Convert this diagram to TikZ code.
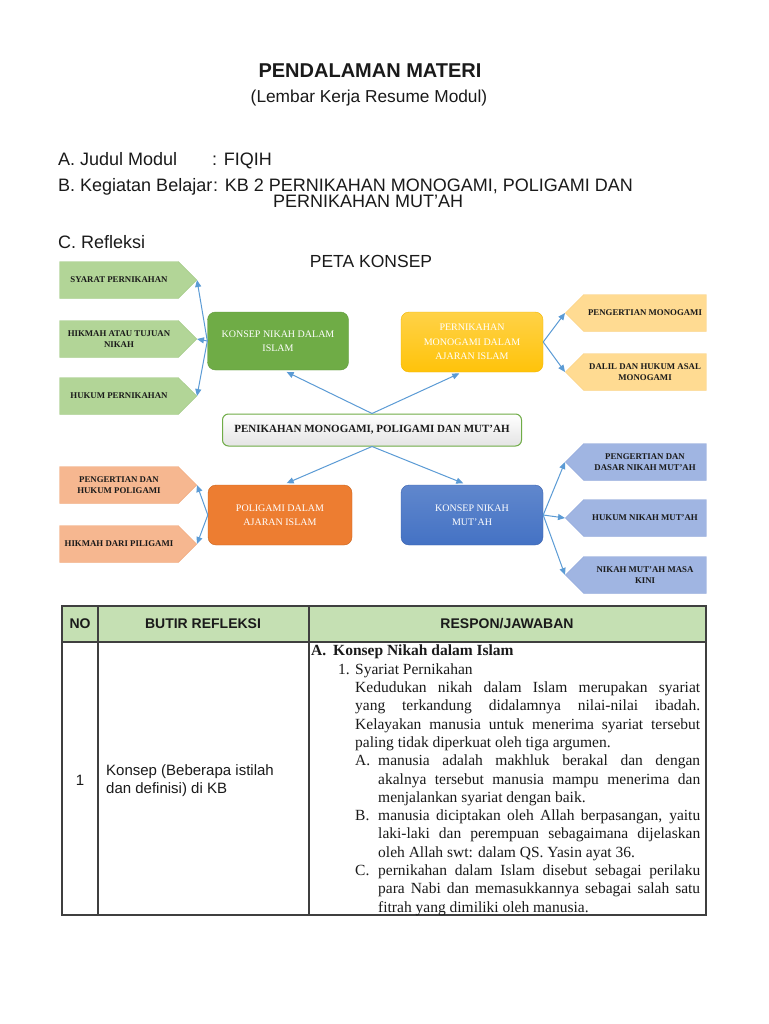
\documentclass[tikz,border=0pt]{standalone}
\usepackage{fontspec}
\setmainfont{Liberation Sans}
\newfontfamily\seriffont{Liberation Serif}
\usetikzlibrary{arrows.meta,shapes.symbols}
\definecolor{Ink}{HTML}{1A1A1A}
\definecolor{Grid}{HTML}{3F3F3F}
\definecolor{Sky}{HTML}{5B9BD5}
\definecolor{Leaf}{HTML}{B2D597}
\definecolor{LeafLine}{HTML}{A2CA86}
\definecolor{Grass}{HTML}{6FAC46}
\definecolor{GrassLine}{HTML}{5F9A3B}
\definecolor{Amber}{HTML}{FFC30A}
\definecolor{AmberLine}{HTML}{F2B600}
\definecolor{Cream}{HTML}{FFDB92}
\definecolor{CreamLine}{HTML}{F9CF7E}
\definecolor{Rust}{HTML}{ED7D31}
\definecolor{RustLine}{HTML}{C9651F}
\definecolor{Salmon}{HTML}{F6B790}
\definecolor{SalmonLine}{HTML}{F0A77A}
\definecolor{Royal}{HTML}{4472C4}
\definecolor{RoyalLine}{HTML}{3A62AE}
\definecolor{Lilac}{HTML}{A0B5E2}
\definecolor{LilacLine}{HTML}{8EA7DA}
\definecolor{Mist}{HTML}{E4E4E4}
\definecolor{HeadGreen}{HTML}{C5E0B3}

\begin{document}
\begin{tikzpicture}[x=1pt,y=-1pt,font=\fontsize{18}{21}\selectfont,every node/.style={text=Ink},babkiri/.style={signal,signal to=east,signal from=nowhere,minimum width=137pt,minimum height=37pt,inner sep=1pt,align=center,font=\fontsize{8.8}{11}\selectfont\seriffont\bfseries},babkanan/.style={babkiri,signal to=west,minimum width=141pt},kotak/.style={rounded corners=8pt,minimum width=142pt,minimum height=60pt,align=center,text=white,font=\fontsize{10}{14.5}\selectfont\seriffont},pusat/.style={rounded corners=6pt,draw=Grass,line width=1pt,top color=white,bottom color=Mist,minimum width=299pt,minimum height=32pt,font=\fontsize{11}{13}\selectfont\seriffont\bfseries},panah/.style={-{Triangle[length=7pt,width=6pt]},line width=1pt,draw=Sky},garis/.style={draw=Grid,line width=1.2pt},kepala/.style={font=\fontsize{14}{16}\selectfont\bfseries},respon/.style={text width=389pt,inner sep=0pt,align=justify,font=\fontsize{15.5}{18.3}\selectfont\seriffont}]
\useasboundingbox (0,0) rectangle (768,1024);
\fill[white] (0,0) rectangle (768,1024);
% heading
\node[anchor=base,font=\fontsize{20}{24}\selectfont\bfseries] (judul) at (370,78) {PENDALAMAN MATERI};
\node[anchor=base,font=\fontsize{17.3}{20}\selectfont] (sub) at (369,103) {(Lembar Kerja Resume Modul)};
\node[anchor=base west,inner sep=0pt] (a) at (58,166) {A. Judul Modul};
\node[anchor=base west,inner sep=0pt] (amod) at (212,166) {: FIQIH};
\node[anchor=base west,inner sep=0pt] (b) at (58,192) {B. Kegiatan Belajar};
\node[anchor=base west,inner sep=0pt] (bkb) at (213,192) {: KB 2 PERNIKAHAN MONOGAMI, POLIGAMI DAN};
\node[anchor=base west,inner sep=0pt] (bkb2) at (273,208) {PERNIKAHAN MUT’AH};
\node[anchor=base west,inner sep=0pt] (c) at (58,248) {C. Refleksi};
\node[anchor=base,font=\fontsize{17.5}{20}\selectfont] (peta) at (371,267) {PETA KONSEP};
% peta konsep
\node[pusat] (inti) at (372,430) {PENIKAHAN MONOGAMI, POLIGAMI DAN MUT’AH};
\node[kotak,fill=Grass,draw=GrassLine,minimum width=141pt,minimum height=58pt] (konsep) at (278,341) {KONSEP NIKAH DALAM\\ISLAM};
\node[kotak,top color=Amber!75!white,bottom color=Amber,draw=AmberLine] (mono) at (472,342) {PERNIKAHAN\\MONOGAMI DALAM\\AJARAN ISLAM};
\node[kotak,fill=Rust,draw=RustLine,minimum width=144pt] (poli) at (280,515) {POLIGAMI DALAM\\AJARAN ISLAM};
\node[kotak,top color=Royal!85!white,bottom color=Royal,draw=RoyalLine] (mutah) at (472,515) {KONSEP NIKAH\\MUT’AH};
\node[babkiri,fill=Leaf,draw=LeafLine,anchor=east] (syarat) at (197,280) {SYARAT PERNIKAHAN};
\node[babkiri,fill=Leaf,draw=LeafLine,anchor=east] (hikmah) at (197,339) {HIKMAH ATAU TUJUAN\\NIKAH};
\node[babkiri,fill=Leaf,draw=LeafLine,anchor=east] (hukum) at (197,396) {HUKUM PERNIKAHAN};
\node[babkanan,fill=Cream,draw=CreamLine,anchor=west] (pengmono) at (565,313) {PENGERTIAN MONOGAMI};
\node[babkanan,fill=Cream,draw=CreamLine,anchor=west] (dalil) at (565,372) {DALIL DAN HUKUM ASAL\\MONOGAMI};
\node[babkiri,fill=Salmon,draw=SalmonLine,anchor=east] (pengpoli) at (197,485) {PENGERTIAN DAN\\HUKUM POLIGAMI};
\node[babkiri,fill=Salmon,draw=SalmonLine,anchor=east] (hikpoli) at (197,544) {HIKMAH DARI PILIGAMI};
\node[babkanan,fill=Lilac,draw=LilacLine,anchor=west] (pengmutah) at (565,462) {PENGERTIAN DAN\\DASAR NIKAH MUT’AH};
\node[babkanan,fill=Lilac,draw=LilacLine,anchor=west] (hukmutah) at (565,518) {HUKUM NIKAH MUT’AH};
\node[babkanan,fill=Lilac,draw=LilacLine,anchor=west] (kini) at (565,575) {NIKAH MUT’AH MASA\\KINI};
\draw[panah] (konsep.west) -- (syarat.east);
\draw[panah] (konsep.west) -- (hikmah.east);
\draw[panah] (konsep.west) -- (hukum.east);
\draw[panah] (mono.east) -- (pengmono.west);
\draw[panah] (mono.east) -- (dalil.west);
\draw[panah,shorten >=4pt] (inti.north) -- ([xshift=5pt]konsep.south);
\draw[panah,shorten >=3pt] (inti.north) -- ([xshift=-10pt]mono.south);
\draw[panah,shorten >=4pt] (inti.south) -- ([xshift=3pt]poli.north);
\draw[panah,shorten >=4pt] (inti.south) -- ([xshift=-5pt]mutah.north);
\draw[panah] (poli.west) -- (pengpoli.east);
\draw[panah] (poli.west) -- (hikpoli.east);
\draw[panah] (mutah.east) -- (pengmutah.west);
\draw[panah] (mutah.east) -- (hukmutah.west);
\draw[panah] (mutah.east) -- (kini.west);
% tabel refleksi
\fill[HeadGreen] (62,606) rectangle (706,642);
\draw[garis] (62,606) rectangle (706,915);
\draw[garis] (98,606) -- (98,915);
\draw[garis] (309,606) -- (309,915);
\draw[garis] (62,642) -- (706,642);
\node[kepala] (hno) at (80,624) {NO};
\node[kepala] (hbutir) at (203,624) {BUTIR REFLEKSI};
\node[kepala] (hrespon) at (507,624) {RESPON/JAWABAN};
\node[font=\fontsize{15}{18}\selectfont] (no1) at (80,780) {1};
\node[anchor=west,align=left,inner sep=0pt,font=\fontsize{15}{18}\selectfont] (butir1) at (106,781) {Konsep (Beberapa istilah\\dan definisi) di KB};
\node[respon,anchor=north west] (jawab) at (311,645) {\parindent=0pt\parskip=0pt\hyphenpenalty=10000\tolerance=10000
{\bfseries\makebox[22pt][l]{A.}Konsep Nikah dalam Islam\par}
{\leftskip=27pt\makebox[17pt][l]{1.}Syariat Pernikahan\par}
{\leftskip=44pt Kedudukan nikah dalam Islam merupakan syariat\linebreak yang terkandung didalamnya nilai-nilai ibadah.\linebreak Kelayakan manusia untuk menerima syariat tersebut\linebreak paling tidak diperkuat oleh tiga argumen.\par}
{\leftskip=44pt\hangindent=23pt\hangafter=1\makebox[23pt][l]{A.}manusia adalah makhluk berakal dan dengan\linebreak akalnya tersebut manusia mampu menerima dan\linebreak menjalankan syariat dengan baik.\par}
{\leftskip=44pt\hangindent=23pt\hangafter=1\makebox[23pt][l]{B.}manusia diciptakan oleh Allah berpasangan, yaitu\linebreak laki-laki dan perempuan sebagaimana dijelaskan\linebreak oleh Allah swt: dalam QS. Yasin ayat 36.\par}
{\leftskip=44pt\hangindent=23pt\hangafter=1\makebox[23pt][l]{C.}pernikahan dalam Islam disebut sebagai perilaku\linebreak para Nabi dan memasukkannya sebagai salah satu\linebreak fitrah yang dimiliki oleh manusia.\par}};
\end{tikzpicture}
\end{document}
